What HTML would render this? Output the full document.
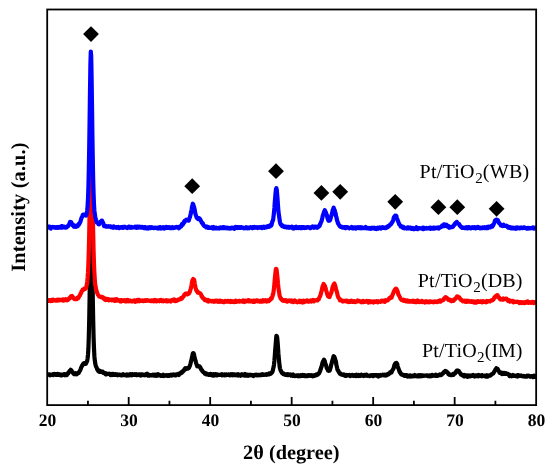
<!DOCTYPE html>
<html lang="en"><head><meta charset="utf-8"><title>XRD patterns</title>
<style>html,body{margin:0;padding:0;background:#fff}body{width:550px;height:468px;overflow:hidden}svg{display:block}</style>
</head><body>
<svg width="550" height="468" viewBox="0 0 550 468">
<rect width="550" height="468" fill="#fff"/>
<clipPath id="cp"><rect x="47.2" y="9.5" width="488.95" height="395.6"/></clipPath>
<g clip-path="url(#cp)">
<polyline fill="none" stroke="#000000" stroke-width="4.2" stroke-linejoin="round" stroke-linecap="butt" points="47.2,374.8 47.6,374.9 48.0,374.7 48.4,374.4 48.8,374.6 49.2,374.4 49.6,374.8 50.0,375.3 50.4,374.6 50.8,374.5 51.2,374.9 51.6,374.9 52.0,374.8 52.4,374.4 52.8,374.7 53.2,375.0 53.6,374.2 54.0,374.5 54.4,374.0 54.8,374.3 55.2,374.1 55.6,374.7 56.0,374.3 56.4,374.9 56.8,374.9 57.2,374.7 57.6,373.9 58.0,374.6 58.4,374.8 58.8,374.8 59.2,374.2 59.6,374.7 60.0,374.5 60.4,374.5 60.8,375.3 61.2,374.6 61.6,374.9 62.0,375.2 62.4,374.6 62.8,374.7 63.2,374.8 63.6,374.7 64.0,374.2 64.4,374.6 64.8,375.2 65.2,374.1 65.6,374.9 66.0,374.6 66.4,374.2 66.8,375.1 67.2,374.5 67.6,373.5 68.0,373.6 68.4,373.3 68.8,372.3 69.2,371.9 69.6,370.9 70.0,370.7 70.4,370.6 70.8,369.8 71.2,370.5 71.6,370.8 72.0,371.6 72.4,371.8 72.8,372.6 73.2,373.1 73.6,373.8 74.0,374.1 74.4,373.4 74.8,373.6 75.2,374.2 75.6,373.1 76.0,373.6 76.4,373.8 76.8,374.2 77.2,373.8 77.6,373.2 78.0,372.9 78.4,372.7 78.8,372.9 79.2,371.7 79.6,371.2 80.0,370.7 80.4,369.7 80.8,368.7 81.2,367.4 81.6,366.8 82.0,365.7 82.4,365.4 82.8,364.5 83.2,363.7 83.6,363.6 84.0,363.1 84.4,363.7 84.8,363.4 85.2,363.7 85.6,363.1 86.0,363.7 86.4,362.5 86.8,361.7 87.2,360.9 87.6,358.3 88.0,354.7 88.4,348.7 88.8,336.7 89.2,320.5 89.6,298.4 90.0,270.2 90.4,239.2 90.8,213.1 91.2,202.8 91.6,213.4 92.0,238.9 92.4,270.3 92.8,298.6 93.2,320.9 93.6,337.8 94.0,348.4 94.4,356.2 94.8,360.4 95.2,363.3 95.6,365.0 96.0,366.6 96.4,367.0 96.8,368.2 97.2,369.5 97.6,369.2 98.0,370.8 98.4,370.3 98.8,371.5 99.2,371.1 99.6,371.9 100.0,371.7 100.4,371.0 100.8,372.0 101.2,372.0 101.6,371.5 102.0,371.5 102.4,371.7 102.8,371.7 103.2,372.9 103.6,372.6 104.0,373.1 104.4,373.0 104.8,373.3 105.2,373.2 105.6,374.3 106.0,373.8 106.4,374.2 106.8,373.9 107.2,373.7 107.6,373.8 108.0,373.8 108.4,374.0 108.8,373.9 109.2,374.0 109.6,373.7 110.0,374.0 110.4,375.0 110.8,374.2 111.2,374.1 111.6,374.6 112.0,375.0 112.4,374.0 112.8,374.5 113.2,374.3 113.6,373.9 114.0,374.9 114.4,374.5 114.8,374.6 115.2,374.3 115.6,374.8 116.0,374.4 116.4,374.6 116.8,374.3 117.2,374.3 117.6,375.3 118.0,374.6 118.4,374.9 118.8,374.8 119.2,374.6 119.6,374.7 120.0,375.1 120.4,374.8 120.8,374.8 121.2,374.9 121.6,375.4 122.0,375.1 122.4,375.0 122.8,374.7 123.2,374.3 123.6,375.2 124.0,375.2 124.4,374.7 124.8,374.9 125.2,375.0 125.6,375.1 126.0,375.2 126.4,374.7 126.8,375.5 127.2,374.4 127.6,375.2 128.0,375.0 128.4,375.1 128.8,375.5 129.2,375.4 129.6,374.3 130.0,374.1 130.4,375.1 130.8,374.4 131.2,374.8 131.6,375.2 132.0,374.2 132.4,374.1 132.8,375.0 133.2,374.9 133.6,374.8 134.0,374.9 134.4,374.6 134.8,374.2 135.2,374.8 135.6,374.5 136.0,374.2 136.4,375.1 136.8,374.8 137.2,375.0 137.6,374.5 138.0,374.6 138.4,374.4 138.8,374.5 139.2,375.0 139.6,374.6 140.0,375.0 140.4,375.0 140.8,375.6 141.2,374.3 141.6,375.3 142.0,374.9 142.4,374.9 142.8,374.4 143.2,374.7 143.6,375.1 144.0,374.8 144.4,374.9 144.8,374.7 145.2,375.3 145.6,374.9 146.0,374.1 146.4,374.6 146.8,374.2 147.2,373.7 147.6,374.8 148.0,375.6 148.4,375.1 148.8,374.7 149.2,374.8 149.6,375.6 150.0,375.2 150.4,375.2 150.8,375.1 151.2,375.2 151.6,375.5 152.0,375.5 152.4,375.4 152.8,374.8 153.2,375.4 153.6,374.9 154.0,375.6 154.4,374.7 154.8,375.1 155.2,375.2 155.6,374.7 156.0,375.9 156.4,375.8 156.8,375.1 157.2,375.5 157.6,375.3 158.0,374.2 158.4,375.3 158.8,375.2 159.2,375.3 159.6,374.9 160.0,375.2 160.4,375.2 160.8,375.8 161.2,375.5 161.6,375.4 162.0,375.9 162.4,375.2 162.8,375.2 163.2,374.7 163.6,376.0 164.0,375.7 164.4,375.7 164.8,375.7 165.2,375.4 165.6,375.4 166.0,375.1 166.4,375.2 166.8,375.3 167.2,375.8 167.6,375.4 168.0,375.2 168.4,375.0 168.8,375.0 169.2,375.8 169.6,375.4 170.0,375.2 170.4,375.1 170.8,374.8 171.2,375.2 171.6,375.5 172.0,374.9 172.4,375.0 172.8,375.0 173.2,375.1 173.6,374.4 174.0,374.9 174.4,374.6 174.8,375.2 175.2,374.6 175.6,375.0 176.0,375.3 176.4,374.6 176.8,374.4 177.2,374.7 177.6,374.5 178.0,374.1 178.4,374.5 178.8,374.9 179.2,373.9 179.6,373.8 180.0,373.2 180.4,373.5 180.8,372.6 181.2,372.4 181.6,373.0 182.0,371.7 182.4,372.0 182.8,371.8 183.2,370.9 183.6,370.4 184.0,370.5 184.4,369.3 184.8,368.7 185.2,368.2 185.6,368.5 186.0,369.0 186.4,368.8 186.8,368.0 187.2,368.1 187.6,368.3 188.0,368.5 188.4,368.2 188.8,367.9 189.2,367.4 189.6,366.3 190.0,365.4 190.4,364.0 190.8,362.3 191.2,360.8 191.6,359.4 192.0,357.1 192.4,355.4 192.8,353.5 193.2,353.9 193.6,353.3 194.0,354.5 194.4,356.8 194.8,358.3 195.2,359.8 195.6,360.8 196.0,362.7 196.4,363.7 196.8,365.1 197.2,366.3 197.6,366.0 198.0,365.8 198.4,365.8 198.8,366.3 199.2,366.4 199.6,366.4 200.0,367.3 200.4,367.3 200.8,368.7 201.2,369.4 201.6,370.0 202.0,370.1 202.4,371.1 202.8,371.5 203.2,371.9 203.6,372.4 204.0,372.4 204.4,372.6 204.8,373.7 205.2,373.5 205.6,373.8 206.0,374.3 206.4,373.4 206.8,373.8 207.2,374.3 207.6,374.5 208.0,374.3 208.4,374.8 208.8,374.6 209.2,374.1 209.6,374.2 210.0,374.9 210.4,374.8 210.8,374.0 211.2,375.2 211.6,374.9 212.0,375.2 212.4,374.6 212.8,374.7 213.2,374.3 213.6,375.7 214.0,374.7 214.4,375.4 214.8,374.5 215.2,374.8 215.6,374.2 216.0,374.7 216.4,375.2 216.8,374.4 217.2,375.3 217.6,375.1 218.0,374.6 218.4,374.8 218.8,374.8 219.2,374.9 219.6,374.8 220.0,374.7 220.4,374.8 220.8,374.6 221.2,374.4 221.6,374.9 222.0,375.2 222.4,374.3 222.8,374.9 223.2,374.6 223.6,374.5 224.0,375.1 224.4,374.6 224.8,375.4 225.2,374.5 225.6,375.0 226.0,374.7 226.4,374.5 226.8,375.1 227.2,374.8 227.6,375.0 228.0,374.8 228.4,374.4 228.8,374.8 229.2,374.9 229.6,375.2 230.0,374.5 230.4,374.8 230.8,374.2 231.2,375.1 231.6,374.4 232.0,374.2 232.4,374.9 232.8,375.3 233.2,374.3 233.6,374.5 234.0,374.7 234.4,374.5 234.8,375.1 235.2,374.7 235.6,374.7 236.0,375.2 236.4,374.6 236.8,375.1 237.2,374.6 237.6,374.5 238.0,374.2 238.4,375.6 238.8,374.8 239.2,375.1 239.6,374.9 240.0,375.0 240.4,375.0 240.8,375.7 241.2,374.5 241.6,374.3 242.0,374.5 242.4,374.4 242.8,375.2 243.2,375.3 243.6,374.6 244.0,374.5 244.4,374.9 244.8,375.6 245.2,374.0 245.6,375.3 246.0,374.7 246.4,375.6 246.8,374.8 247.2,375.1 247.6,374.7 248.0,374.9 248.4,375.7 248.8,375.5 249.2,375.0 249.6,374.9 250.0,374.6 250.4,375.1 250.8,375.3 251.2,375.4 251.6,375.3 252.0,374.9 252.4,375.4 252.8,375.4 253.2,375.8 253.6,376.0 254.0,375.3 254.4,375.0 254.8,375.2 255.2,375.0 255.6,374.9 256.0,375.1 256.4,374.8 256.8,375.4 257.2,375.2 257.6,375.3 258.0,375.1 258.4,374.9 258.8,374.8 259.2,375.1 259.6,375.0 260.0,375.3 260.4,375.2 260.8,374.6 261.2,375.1 261.6,374.6 262.0,374.9 262.4,375.0 262.8,374.3 263.2,375.0 263.6,375.0 264.0,374.9 264.4,374.8 264.8,374.7 265.2,374.4 265.6,374.7 266.0,374.4 266.4,374.7 266.8,374.1 267.2,374.6 267.6,374.6 268.0,374.3 268.4,374.1 268.8,374.4 269.2,373.5 269.6,374.2 270.0,373.9 270.4,373.7 270.8,373.6 271.2,372.9 271.6,372.7 272.0,372.6 272.4,371.8 272.8,370.6 273.2,368.5 273.6,367.1 274.0,364.5 274.4,360.7 274.8,355.8 275.2,349.9 275.6,345.4 276.0,340.1 276.4,335.8 276.8,336.2 277.2,337.6 277.6,341.9 278.0,347.4 278.4,353.5 278.8,357.9 279.2,362.3 279.6,366.2 280.0,368.6 280.4,369.7 280.8,370.9 281.2,371.4 281.6,372.2 282.0,373.1 282.4,373.3 282.8,373.5 283.2,374.0 283.6,373.5 284.0,373.9 284.4,374.4 284.8,374.5 285.2,374.8 285.6,374.6 286.0,374.4 286.4,374.7 286.8,374.3 287.2,374.2 287.6,375.1 288.0,375.0 288.4,375.1 288.8,374.5 289.2,375.0 289.6,375.0 290.0,374.9 290.4,374.4 290.8,375.2 291.2,375.7 291.6,375.5 292.0,375.2 292.4,375.4 292.8,375.7 293.2,374.4 293.6,375.4 294.0,375.6 294.4,375.7 294.8,376.1 295.2,375.9 295.6,375.6 296.0,375.6 296.4,375.8 296.8,375.3 297.2,375.4 297.6,375.8 298.0,376.2 298.4,375.4 298.8,375.5 299.2,375.6 299.6,376.0 300.0,375.5 300.4,376.0 300.8,375.1 301.2,375.4 301.6,375.4 302.0,375.7 302.4,375.9 302.8,375.0 303.2,375.2 303.6,375.7 304.0,375.3 304.4,375.1 304.8,376.0 305.2,375.8 305.6,375.8 306.0,375.5 306.4,376.1 306.8,375.6 307.2,376.1 307.6,375.4 308.0,375.4 308.4,375.7 308.8,375.3 309.2,375.8 309.6,375.7 310.0,375.2 310.4,375.5 310.8,375.4 311.2,375.9 311.6,375.2 312.0,375.3 312.4,375.9 312.8,376.3 313.2,376.2 313.6,375.4 314.0,375.4 314.4,375.9 314.8,375.2 315.2,374.9 315.6,375.2 316.0,375.3 316.4,374.7 316.8,374.3 317.2,374.2 317.6,374.8 318.0,374.0 318.4,374.0 318.8,373.6 319.2,373.1 319.6,372.0 320.0,371.4 320.4,369.9 320.8,368.9 321.2,367.3 321.6,366.6 322.0,364.7 322.4,363.0 322.8,362.0 323.2,361.0 323.6,360.7 324.0,359.7 324.4,360.3 324.8,361.2 325.2,363.4 325.6,364.1 326.0,365.0 326.4,366.6 326.8,368.4 327.2,368.6 327.6,369.3 328.0,370.5 328.4,370.6 328.8,370.8 329.2,370.1 329.6,370.6 330.0,369.8 330.4,368.2 330.8,367.0 331.2,364.5 331.6,363.9 332.0,361.8 332.4,360.4 332.8,359.0 333.2,357.5 333.6,356.2 334.0,356.9 334.4,356.9 334.8,358.0 335.2,359.3 335.6,361.1 336.0,362.1 336.4,365.2 336.8,366.5 337.2,368.4 337.6,370.1 338.0,370.5 338.4,370.8 338.8,372.0 339.2,372.4 339.6,373.2 340.0,373.8 340.4,373.3 340.8,374.4 341.2,373.9 341.6,374.7 342.0,374.7 342.4,374.6 342.8,374.8 343.2,374.7 343.6,374.8 344.0,374.4 344.4,375.1 344.8,375.8 345.2,375.9 345.6,375.7 346.0,375.4 346.4,374.9 346.8,375.7 347.2,375.2 347.6,375.2 348.0,375.2 348.4,375.3 348.8,375.1 349.2,375.2 349.6,374.9 350.0,375.2 350.4,376.1 350.8,375.3 351.2,375.2 351.6,375.5 352.0,375.6 352.4,374.9 352.8,375.3 353.2,375.8 353.6,375.5 354.0,375.4 354.4,375.9 354.8,375.1 355.2,375.4 355.6,375.2 356.0,376.0 356.4,374.7 356.8,375.2 357.2,375.3 357.6,375.8 358.0,375.7 358.4,376.1 358.8,375.0 359.2,375.9 359.6,375.5 360.0,375.3 360.4,375.8 360.8,375.1 361.2,374.7 361.6,375.4 362.0,375.0 362.4,375.3 362.8,375.7 363.2,375.7 363.6,376.1 364.0,375.4 364.4,374.9 364.8,375.1 365.2,375.0 365.6,374.9 366.0,375.6 366.4,375.2 366.8,374.8 367.2,375.8 367.6,375.4 368.0,375.6 368.4,375.6 368.8,375.9 369.2,375.6 369.6,376.1 370.0,375.8 370.4,375.7 370.8,375.8 371.2,375.1 371.6,375.6 372.0,375.5 372.4,375.7 372.8,375.1 373.2,376.2 373.6,375.7 374.0,375.1 374.4,375.0 374.8,375.5 375.2,375.5 375.6,375.3 376.0,375.6 376.4,375.3 376.8,375.7 377.2,375.2 377.6,375.5 378.0,375.9 378.4,376.5 378.8,375.2 379.2,375.4 379.6,375.2 380.0,375.7 380.4,375.0 380.8,375.3 381.2,375.5 381.6,375.1 382.0,375.1 382.4,375.2 382.8,374.6 383.2,374.9 383.6,375.2 384.0,375.4 384.4,375.2 384.8,374.7 385.2,375.1 385.6,375.5 386.0,375.3 386.4,374.9 386.8,374.5 387.2,374.9 387.6,374.3 388.0,373.8 388.4,373.7 388.8,374.3 389.2,373.5 389.6,373.5 390.0,372.5 390.4,372.7 390.8,371.9 391.2,371.7 391.6,372.4 392.0,371.2 392.4,370.2 392.8,369.7 393.2,369.0 393.6,368.4 394.0,366.7 394.4,365.1 394.8,364.5 395.2,363.7 395.6,363.1 396.0,363.2 396.4,363.0 396.8,363.8 397.2,364.0 397.6,365.9 398.0,367.6 398.4,368.3 398.8,369.4 399.2,370.5 399.6,372.1 400.0,371.9 400.4,372.9 400.8,373.7 401.2,374.3 401.6,374.1 402.0,374.8 402.4,374.8 402.8,375.1 403.2,375.1 403.6,374.9 404.0,375.4 404.4,375.7 404.8,375.1 405.2,375.3 405.6,375.8 406.0,375.1 406.4,375.7 406.8,375.2 407.2,376.1 407.6,376.6 408.0,376.6 408.4,375.8 408.8,376.1 409.2,375.9 409.6,376.0 410.0,376.5 410.4,375.4 410.8,376.3 411.2,375.9 411.6,376.4 412.0,375.9 412.4,375.6 412.8,375.9 413.2,376.2 413.6,375.8 414.0,376.1 414.4,375.7 414.8,375.0 415.2,376.2 415.6,376.1 416.0,375.9 416.4,375.8 416.8,376.2 417.2,375.6 417.6,375.5 418.0,375.7 418.4,376.2 418.8,375.2 419.2,376.3 419.6,375.6 420.0,375.4 420.4,376.2 420.8,375.7 421.2,375.2 421.6,375.6 422.0,376.1 422.4,376.2 422.8,375.5 423.2,375.9 423.6,376.0 424.0,375.5 424.4,375.8 424.8,375.7 425.2,375.5 425.6,375.5 426.0,375.6 426.4,375.6 426.8,375.3 427.2,375.4 427.6,376.0 428.0,375.7 428.4,376.0 428.8,376.1 429.2,375.8 429.6,376.4 430.0,375.3 430.4,375.9 430.8,375.5 431.2,376.2 431.6,376.2 432.0,374.8 432.4,375.1 432.8,375.7 433.2,375.7 433.6,375.7 434.0,375.4 434.4,375.6 434.8,375.6 435.2,375.4 435.6,375.9 436.0,374.7 436.4,375.8 436.8,375.1 437.2,375.9 437.6,375.4 438.0,375.1 438.4,375.5 438.8,375.0 439.2,374.9 439.6,374.5 440.0,375.0 440.4,375.1 440.8,375.1 441.2,374.4 441.6,374.7 442.0,374.0 442.4,373.6 442.8,373.5 443.2,373.3 443.6,372.4 444.0,372.0 444.4,371.7 444.8,371.5 445.2,371.1 445.6,371.7 446.0,371.3 446.4,371.8 446.8,371.6 447.2,372.4 447.6,372.8 448.0,372.9 448.4,374.2 448.8,374.0 449.2,374.8 449.6,374.8 450.0,374.4 450.4,374.7 450.8,375.2 451.2,375.1 451.6,375.1 452.0,375.0 452.4,374.4 452.8,374.9 453.2,374.0 453.6,374.8 454.0,374.1 454.4,373.8 454.8,373.5 455.2,373.3 455.6,372.2 456.0,371.6 456.4,371.4 456.8,370.6 457.2,370.7 457.6,371.6 458.0,370.6 458.4,371.5 458.8,371.1 459.2,372.1 459.6,372.3 460.0,372.9 460.4,373.6 460.8,374.5 461.2,374.3 461.6,374.6 462.0,374.5 462.4,375.3 462.8,375.2 463.2,375.7 463.6,375.5 464.0,376.3 464.4,375.0 464.8,375.6 465.2,376.2 465.6,375.7 466.0,375.6 466.4,375.9 466.8,375.5 467.2,376.0 467.6,376.9 468.0,376.4 468.4,375.5 468.8,375.6 469.2,375.8 469.6,376.4 470.0,375.6 470.4,375.6 470.8,376.1 471.2,376.1 471.6,375.6 472.0,375.3 472.4,375.2 472.8,375.5 473.2,374.9 473.6,376.1 474.0,375.5 474.4,375.9 474.8,376.5 475.2,376.2 475.6,375.4 476.0,376.1 476.4,376.2 476.8,375.5 477.2,375.4 477.6,375.7 478.0,375.2 478.4,376.3 478.8,374.9 479.2,375.4 479.6,375.7 480.0,375.7 480.4,375.9 480.8,375.9 481.2,375.8 481.6,376.3 482.0,375.1 482.4,375.9 482.8,375.6 483.2,376.0 483.6,376.0 484.0,375.6 484.4,375.6 484.8,376.1 485.2,375.9 485.6,375.6 486.0,376.6 486.4,376.7 486.8,375.2 487.2,375.8 487.6,376.6 488.0,375.9 488.4,375.7 488.8,375.6 489.2,375.4 489.6,375.4 490.0,375.2 490.4,375.5 490.8,374.9 491.2,374.7 491.6,374.2 492.0,374.4 492.4,373.8 492.8,373.6 493.2,373.6 493.6,372.8 494.0,372.2 494.4,371.4 494.8,370.7 495.2,369.9 495.6,369.3 496.0,369.2 496.4,368.2 496.8,369.1 497.2,368.8 497.6,369.0 498.0,369.7 498.4,370.3 498.8,371.3 499.2,371.6 499.6,372.8 500.0,372.6 500.4,372.3 500.8,373.2 501.2,372.8 501.6,373.7 502.0,374.0 502.4,373.8 502.8,372.9 503.2,373.0 503.6,373.8 504.0,373.1 504.4,372.9 504.8,373.2 505.2,373.8 505.6,373.5 506.0,373.2 506.4,373.5 506.8,373.9 507.2,373.7 507.6,373.8 508.0,374.4 508.4,374.3 508.8,374.9 509.2,375.1 509.6,376.1 510.0,375.0 510.4,375.4 510.8,375.5 511.2,375.8 511.6,376.2 512.0,375.6 512.4,375.5 512.8,375.1 513.2,375.5 513.6,376.0 514.0,375.9 514.4,375.6 514.8,375.8 515.2,376.0 515.6,376.1 516.0,375.8 516.4,375.9 516.8,375.3 517.2,375.5 517.6,376.5 518.0,375.1 518.4,375.8 518.8,376.1 519.2,375.8 519.6,375.6 520.0,375.9 520.4,376.0 520.8,376.0 521.2,375.4 521.6,376.0 522.0,375.8 522.4,376.0 522.8,376.3 523.2,376.4 523.6,376.5 524.0,376.0 524.4,376.5 524.8,376.7 525.2,376.6 525.6,376.7 526.0,376.1 526.4,376.1 526.8,376.6 527.2,375.7 527.6,376.3 528.0,376.0 528.4,376.1 528.8,375.6 529.2,376.0 529.6,376.3 530.0,376.7 530.4,376.8 530.8,376.3 531.2,376.3 531.6,376.1 532.0,376.5 532.4,376.3 532.8,376.6 533.2,377.1 533.6,376.4 534.0,375.8 534.4,376.1 534.8,375.9 535.2,376.0 535.6,376.9 536.0,376.5"/>
<polyline fill="none" stroke="#ff0000" stroke-width="4.2" stroke-linejoin="round" stroke-linecap="butt" points="47.2,300.1 47.6,299.9 48.0,300.3 48.4,300.6 48.8,300.8 49.2,300.4 49.6,300.1 50.0,300.1 50.4,300.7 50.8,301.0 51.2,300.5 51.6,299.9 52.0,300.0 52.4,300.9 52.8,300.4 53.2,299.7 53.6,300.4 54.0,299.9 54.4,300.1 54.8,300.2 55.2,300.1 55.6,300.5 56.0,300.3 56.4,300.1 56.8,300.5 57.2,300.6 57.6,299.7 58.0,300.2 58.4,299.9 58.8,300.2 59.2,299.8 59.6,300.3 60.0,300.2 60.4,300.2 60.8,299.9 61.2,300.1 61.6,299.8 62.0,299.6 62.4,300.2 62.8,299.7 63.2,300.6 63.6,300.4 64.0,299.4 64.4,300.3 64.8,299.7 65.2,300.1 65.6,300.1 66.0,299.3 66.4,299.9 66.8,299.9 67.2,300.3 67.6,299.3 68.0,299.8 68.4,298.9 68.8,298.8 69.2,298.2 69.6,298.5 70.0,297.6 70.4,297.6 70.8,296.4 71.2,296.2 71.6,296.2 72.0,295.9 72.4,296.6 72.8,297.7 73.2,297.5 73.6,298.3 74.0,298.6 74.4,299.0 74.8,298.8 75.2,299.0 75.6,299.1 76.0,299.0 76.4,298.6 76.8,299.1 77.2,298.0 77.6,297.8 78.0,297.5 78.4,298.0 78.8,297.0 79.2,296.2 79.6,295.6 80.0,295.4 80.4,294.0 80.8,293.0 81.2,292.9 81.6,291.2 82.0,290.8 82.4,290.3 82.8,289.5 83.2,289.3 83.6,289.7 84.0,288.9 84.4,288.6 84.8,288.3 85.2,288.8 85.6,288.4 86.0,287.9 86.4,286.5 86.8,284.8 87.2,282.0 87.6,278.0 88.0,272.2 88.4,263.1 88.8,250.7 89.2,234.2 89.6,211.8 90.0,185.3 90.4,159.8 90.8,137.6 91.2,128.5 91.6,137.9 92.0,159.3 92.4,186.0 92.8,211.8 93.2,233.6 93.6,251.3 94.0,264.4 94.4,273.0 94.8,279.6 95.2,284.5 95.6,286.3 96.0,289.1 96.4,290.5 96.8,291.6 97.2,292.8 97.6,294.0 98.0,294.9 98.4,295.1 98.8,295.8 99.2,296.5 99.6,296.6 100.0,296.9 100.4,296.9 100.8,296.8 101.2,297.3 101.6,296.9 102.0,296.9 102.4,297.4 102.8,297.1 103.2,297.8 103.6,298.6 104.0,298.8 104.4,299.4 104.8,299.0 105.2,298.5 105.6,300.0 106.0,299.7 106.4,298.9 106.8,299.9 107.2,299.5 107.6,298.9 108.0,299.5 108.4,299.5 108.8,300.4 109.2,299.5 109.6,299.8 110.0,299.8 110.4,299.8 110.8,299.6 111.2,300.1 111.6,300.4 112.0,300.2 112.4,299.7 112.8,299.6 113.2,300.1 113.6,299.8 114.0,299.9 114.4,299.5 114.8,300.9 115.2,300.5 115.6,299.7 116.0,300.5 116.4,300.6 116.8,299.2 117.2,299.9 117.6,300.0 118.0,300.4 118.4,300.2 118.8,300.2 119.2,300.3 119.6,301.1 120.0,301.3 120.4,300.3 120.8,300.1 121.2,301.5 121.6,300.1 122.0,300.3 122.4,300.5 122.8,300.6 123.2,300.8 123.6,300.6 124.0,300.2 124.4,300.8 124.8,300.7 125.2,301.4 125.6,300.7 126.0,300.2 126.4,300.3 126.8,301.3 127.2,300.6 127.6,299.9 128.0,300.5 128.4,300.7 128.8,301.2 129.2,300.4 129.6,301.1 130.0,301.1 130.4,300.6 130.8,300.8 131.2,301.5 131.6,301.5 132.0,301.1 132.4,300.9 132.8,301.2 133.2,300.7 133.6,300.7 134.0,300.4 134.4,300.8 134.8,300.7 135.2,301.8 135.6,300.7 136.0,301.2 136.4,301.2 136.8,300.7 137.2,301.2 137.6,300.0 138.0,300.8 138.4,301.1 138.8,299.8 139.2,300.3 139.6,301.2 140.0,300.7 140.4,300.4 140.8,300.7 141.2,300.6 141.6,301.0 142.0,300.9 142.4,300.6 142.8,300.4 143.2,300.6 143.6,301.1 144.0,300.8 144.4,300.8 144.8,300.5 145.2,300.1 145.6,300.3 146.0,300.9 146.4,300.7 146.8,300.3 147.2,300.1 147.6,300.7 148.0,300.5 148.4,300.5 148.8,300.5 149.2,300.7 149.6,300.7 150.0,301.0 150.4,301.0 150.8,301.2 151.2,300.9 151.6,300.5 152.0,300.7 152.4,300.9 152.8,300.6 153.2,300.9 153.6,301.2 154.0,300.4 154.4,300.0 154.8,301.1 155.2,300.7 155.6,301.0 156.0,300.2 156.4,301.4 156.8,301.0 157.2,300.7 157.6,300.6 158.0,300.8 158.4,300.7 158.8,300.7 159.2,300.3 159.6,301.2 160.0,300.8 160.4,300.8 160.8,300.8 161.2,300.0 161.6,301.0 162.0,300.7 162.4,300.8 162.8,300.9 163.2,300.4 163.6,301.2 164.0,300.6 164.4,300.5 164.8,300.5 165.2,300.8 165.6,301.1 166.0,300.6 166.4,300.3 166.8,301.2 167.2,300.4 167.6,301.3 168.0,300.8 168.4,300.5 168.8,300.5 169.2,301.0 169.6,301.2 170.0,300.7 170.4,301.1 170.8,301.5 171.2,300.6 171.6,300.2 172.0,300.2 172.4,300.0 172.8,300.3 173.2,300.2 173.6,300.0 174.0,300.7 174.4,299.5 174.8,300.0 175.2,301.2 175.6,300.8 176.0,300.6 176.4,300.4 176.8,300.8 177.2,300.3 177.6,300.1 178.0,299.6 178.4,300.0 178.8,299.6 179.2,299.4 179.6,299.2 180.0,299.3 180.4,298.9 180.8,299.1 181.2,298.0 181.6,298.1 182.0,298.4 182.4,297.3 182.8,297.2 183.2,296.8 183.6,296.4 184.0,295.7 184.4,294.5 184.8,294.4 185.2,294.1 185.6,293.6 186.0,293.9 186.4,293.6 186.8,293.5 187.2,294.4 187.6,294.3 188.0,294.0 188.4,293.8 188.8,293.6 189.2,293.2 189.6,292.3 190.0,291.3 190.4,289.8 190.8,288.5 191.2,286.7 191.6,284.6 192.0,282.2 192.4,280.5 192.8,279.7 193.2,279.0 193.6,279.4 194.0,279.6 194.4,281.1 194.8,284.1 195.2,286.0 195.6,288.2 196.0,289.4 196.4,290.4 196.8,291.2 197.2,291.2 197.6,292.5 198.0,292.1 198.4,292.6 198.8,292.6 199.2,292.7 199.6,293.2 200.0,293.1 200.4,293.7 200.8,294.1 201.2,294.9 201.6,296.4 202.0,296.2 202.4,297.4 202.8,297.9 203.2,298.4 203.6,298.8 204.0,298.4 204.4,299.4 204.8,300.1 205.2,299.6 205.6,300.0 206.0,299.9 206.4,300.4 206.8,300.0 207.2,301.1 207.6,300.5 208.0,300.1 208.4,301.5 208.8,301.2 209.2,301.1 209.6,301.1 210.0,300.8 210.4,300.9 210.8,301.2 211.2,301.3 211.6,301.3 212.0,301.1 212.4,300.8 212.8,301.0 213.2,301.5 213.6,301.7 214.0,301.0 214.4,300.9 214.8,301.6 215.2,301.4 215.6,301.4 216.0,300.7 216.4,301.1 216.8,301.1 217.2,301.4 217.6,300.7 218.0,301.8 218.4,301.4 218.8,301.5 219.2,300.9 219.6,301.2 220.0,301.8 220.4,300.7 220.8,301.5 221.2,301.6 221.6,301.1 222.0,301.7 222.4,301.3 222.8,301.8 223.2,301.6 223.6,301.5 224.0,302.2 224.4,301.7 224.8,301.8 225.2,300.9 225.6,301.2 226.0,301.7 226.4,301.7 226.8,301.3 227.2,301.6 227.6,301.0 228.0,301.5 228.4,300.9 228.8,301.5 229.2,301.1 229.6,301.1 230.0,301.4 230.4,302.0 230.8,300.9 231.2,301.1 231.6,301.7 232.0,301.1 232.4,301.9 232.8,301.4 233.2,301.3 233.6,301.5 234.0,302.0 234.4,301.5 234.8,301.5 235.2,301.4 235.6,300.7 236.0,300.9 236.4,301.9 236.8,301.6 237.2,301.5 237.6,301.5 238.0,301.1 238.4,301.4 238.8,301.0 239.2,301.5 239.6,301.0 240.0,301.2 240.4,301.4 240.8,301.1 241.2,301.4 241.6,301.3 242.0,301.3 242.4,301.6 242.8,300.6 243.2,300.5 243.6,301.4 244.0,301.5 244.4,301.9 244.8,301.4 245.2,301.5 245.6,300.8 246.0,301.5 246.4,301.4 246.8,300.8 247.2,300.9 247.6,301.2 248.0,301.3 248.4,300.1 248.8,301.2 249.2,301.3 249.6,301.1 250.0,301.2 250.4,301.3 250.8,300.8 251.2,301.4 251.6,301.1 252.0,300.9 252.4,301.3 252.8,301.8 253.2,300.7 253.6,300.6 254.0,300.6 254.4,301.9 254.8,301.0 255.2,301.1 255.6,300.8 256.0,300.8 256.4,300.4 256.8,301.2 257.2,301.3 257.6,300.4 258.0,300.7 258.4,300.8 258.8,301.1 259.2,301.3 259.6,301.6 260.0,301.7 260.4,301.6 260.8,301.7 261.2,300.7 261.6,300.9 262.0,301.6 262.4,301.2 262.8,301.0 263.2,300.2 263.6,300.3 264.0,301.3 264.4,301.1 264.8,300.9 265.2,300.8 265.6,300.3 266.0,301.1 266.4,301.3 266.8,301.5 267.2,300.8 267.6,300.6 268.0,300.2 268.4,301.0 268.8,301.1 269.2,300.1 269.6,300.3 270.0,300.0 270.4,299.5 270.8,298.5 271.2,298.9 271.6,298.8 272.0,297.3 272.4,296.6 272.8,294.3 273.2,294.2 273.6,291.3 274.0,287.9 274.4,283.9 274.8,279.3 275.2,275.0 275.6,271.1 276.0,268.9 276.4,269.0 276.8,271.3 277.2,275.6 277.6,279.0 278.0,284.0 278.4,287.6 278.8,290.7 279.2,292.8 279.6,295.8 280.0,296.6 280.4,297.7 280.8,298.8 281.2,298.7 281.6,299.5 282.0,299.7 282.4,300.3 282.8,300.5 283.2,299.9 283.6,300.7 284.0,300.4 284.4,300.5 284.8,300.5 285.2,300.9 285.6,300.2 286.0,300.8 286.4,301.2 286.8,300.7 287.2,301.7 287.6,300.6 288.0,301.0 288.4,300.8 288.8,300.7 289.2,300.5 289.6,300.8 290.0,301.0 290.4,300.7 290.8,301.4 291.2,301.6 291.6,300.5 292.0,301.4 292.4,301.1 292.8,301.2 293.2,302.0 293.6,301.6 294.0,301.2 294.4,301.2 294.8,300.4 295.2,301.5 295.6,301.0 296.0,301.4 296.4,301.4 296.8,301.8 297.2,302.2 297.6,301.8 298.0,301.9 298.4,301.3 298.8,301.5 299.2,301.7 299.6,300.8 300.0,302.1 300.4,301.0 300.8,300.9 301.2,302.0 301.6,302.2 302.0,301.1 302.4,301.1 302.8,302.5 303.2,301.4 303.6,300.6 304.0,301.1 304.4,302.0 304.8,301.4 305.2,301.4 305.6,301.5 306.0,301.3 306.4,300.9 306.8,300.4 307.2,301.2 307.6,300.6 308.0,301.0 308.4,301.7 308.8,301.2 309.2,301.1 309.6,301.1 310.0,301.3 310.4,301.4 310.8,300.5 311.2,301.0 311.6,301.6 312.0,301.2 312.4,300.7 312.8,300.6 313.2,300.0 313.6,300.5 314.0,301.3 314.4,300.6 314.8,300.3 315.2,300.4 315.6,300.5 316.0,300.4 316.4,300.3 316.8,300.0 317.2,300.3 317.6,300.4 318.0,299.4 318.4,299.1 318.8,299.2 319.2,297.7 319.6,297.2 320.0,296.3 320.4,295.4 320.8,293.9 321.2,292.3 321.6,291.1 322.0,289.0 322.4,287.2 322.8,285.7 323.2,285.7 323.6,284.0 324.0,284.7 324.4,285.1 324.8,286.0 325.2,286.8 325.6,288.1 326.0,289.8 326.4,291.1 326.8,292.3 327.2,294.4 327.6,294.6 328.0,296.4 328.4,296.5 328.8,296.5 329.2,296.9 329.6,297.0 330.0,295.5 330.4,294.9 330.8,293.8 331.2,293.0 331.6,291.6 332.0,289.9 332.4,288.0 332.8,286.5 333.2,285.9 333.6,284.8 334.0,284.0 334.4,283.5 334.8,284.8 335.2,285.8 335.6,287.2 336.0,289.3 336.4,290.6 336.8,291.6 337.2,293.2 337.6,295.4 338.0,296.3 338.4,297.6 338.8,298.0 339.2,298.4 339.6,299.4 340.0,300.3 340.4,300.1 340.8,299.8 341.2,300.3 341.6,300.4 342.0,300.7 342.4,301.1 342.8,301.5 343.2,300.9 343.6,300.8 344.0,301.0 344.4,301.0 344.8,300.9 345.2,301.1 345.6,301.2 346.0,300.8 346.4,301.5 346.8,301.1 347.2,300.8 347.6,301.4 348.0,301.1 348.4,302.0 348.8,301.6 349.2,301.5 349.6,301.1 350.0,301.3 350.4,301.8 350.8,301.2 351.2,301.8 351.6,300.7 352.0,301.6 352.4,301.9 352.8,301.7 353.2,301.5 353.6,301.8 354.0,301.1 354.4,301.1 354.8,301.5 355.2,302.0 355.6,301.7 356.0,301.5 356.4,301.7 356.8,301.7 357.2,301.1 357.6,300.5 358.0,301.1 358.4,301.0 358.8,301.3 359.2,301.0 359.6,301.2 360.0,301.7 360.4,301.6 360.8,301.5 361.2,302.2 361.6,301.4 362.0,301.4 362.4,302.0 362.8,301.1 363.2,300.9 363.6,302.0 364.0,301.7 364.4,301.8 364.8,301.7 365.2,301.8 365.6,301.3 366.0,301.5 366.4,301.1 366.8,301.6 367.2,301.6 367.6,301.4 368.0,301.8 368.4,302.6 368.8,301.1 369.2,301.9 369.6,301.9 370.0,302.0 370.4,301.3 370.8,302.1 371.2,301.9 371.6,301.6 372.0,301.5 372.4,301.7 372.8,301.9 373.2,301.9 373.6,302.5 374.0,301.4 374.4,301.8 374.8,301.4 375.2,301.9 375.6,301.6 376.0,301.4 376.4,301.1 376.8,301.3 377.2,301.8 377.6,302.3 378.0,302.0 378.4,301.3 378.8,301.5 379.2,301.6 379.6,301.5 380.0,301.6 380.4,301.8 380.8,301.6 381.2,301.3 381.6,300.7 382.0,301.3 382.4,300.8 382.8,301.3 383.2,301.4 383.6,300.8 384.0,301.2 384.4,301.0 384.8,301.8 385.2,301.2 385.6,300.2 386.0,300.9 386.4,300.8 386.8,300.3 387.2,300.1 387.6,300.3 388.0,300.1 388.4,299.7 388.8,298.8 389.2,298.8 389.6,297.9 390.0,297.6 390.4,297.5 390.8,297.0 391.2,296.9 391.6,297.7 392.0,296.4 392.4,295.3 392.8,294.1 393.2,293.7 393.6,292.5 394.0,291.1 394.4,291.1 394.8,289.7 395.2,289.2 395.6,289.7 396.0,288.6 396.4,288.9 396.8,289.8 397.2,290.5 397.6,291.4 398.0,292.9 398.4,294.6 398.8,295.1 399.2,295.7 399.6,296.6 400.0,297.4 400.4,298.4 400.8,299.0 401.2,299.4 401.6,299.9 402.0,299.6 402.4,300.2 402.8,300.2 403.2,300.5 403.6,299.6 404.0,300.9 404.4,299.9 404.8,300.1 405.2,300.9 405.6,300.5 406.0,301.4 406.4,300.8 406.8,300.5 407.2,301.0 407.6,300.8 408.0,301.6 408.4,301.7 408.8,301.4 409.2,301.0 409.6,301.2 410.0,301.6 410.4,301.0 410.8,301.0 411.2,301.6 411.6,301.6 412.0,301.3 412.4,301.3 412.8,300.7 413.2,301.9 413.6,301.5 414.0,300.9 414.4,301.1 414.8,301.2 415.2,302.2 415.6,301.8 416.0,301.1 416.4,302.2 416.8,302.0 417.2,301.1 417.6,300.5 418.0,301.9 418.4,301.3 418.8,301.4 419.2,301.3 419.6,302.0 420.0,302.1 420.4,301.8 420.8,301.5 421.2,301.7 421.6,301.9 422.0,301.0 422.4,302.1 422.8,301.5 423.2,301.7 423.6,301.6 424.0,301.9 424.4,302.0 424.8,302.4 425.2,301.5 425.6,301.4 426.0,301.8 426.4,301.5 426.8,302.1 427.2,301.4 427.6,301.7 428.0,302.1 428.4,302.1 428.8,301.9 429.2,302.4 429.6,302.4 430.0,301.3 430.4,302.0 430.8,301.9 431.2,301.7 431.6,301.6 432.0,301.9 432.4,302.0 432.8,301.9 433.2,302.3 433.6,302.2 434.0,301.6 434.4,301.5 434.8,302.1 435.2,301.4 435.6,301.7 436.0,301.9 436.4,302.0 436.8,301.8 437.2,302.1 437.6,301.4 438.0,301.8 438.4,301.3 438.8,301.6 439.2,301.5 439.6,301.1 440.0,300.4 440.4,301.7 440.8,301.3 441.2,301.1 441.6,300.6 442.0,300.5 442.4,300.5 442.8,300.0 443.2,300.1 443.6,299.3 444.0,298.6 444.4,298.7 444.8,297.9 445.2,298.1 445.6,297.1 446.0,297.7 446.4,298.1 446.8,297.7 447.2,298.2 447.6,298.8 448.0,299.0 448.4,299.9 448.8,299.4 449.2,299.8 449.6,300.0 450.0,299.6 450.4,299.9 450.8,300.8 451.2,300.6 451.6,301.3 452.0,300.8 452.4,300.7 452.8,300.9 453.2,300.5 453.6,300.8 454.0,299.5 454.4,299.7 454.8,299.4 455.2,298.9 455.6,298.7 456.0,298.1 456.4,297.3 456.8,296.7 457.2,297.0 457.6,296.5 458.0,296.9 458.4,297.3 458.8,297.2 459.2,297.3 459.6,298.0 460.0,298.9 460.4,298.9 460.8,299.9 461.2,299.9 461.6,300.3 462.0,300.2 462.4,300.7 462.8,301.3 463.2,300.9 463.6,300.9 464.0,300.8 464.4,301.5 464.8,300.6 465.2,301.0 465.6,301.7 466.0,301.9 466.4,301.4 466.8,301.8 467.2,300.7 467.6,301.7 468.0,301.6 468.4,301.1 468.8,300.9 469.2,301.3 469.6,301.6 470.0,301.6 470.4,301.6 470.8,301.9 471.2,301.9 471.6,301.1 472.0,301.5 472.4,301.5 472.8,302.1 473.2,301.5 473.6,302.1 474.0,301.8 474.4,302.6 474.8,301.7 475.2,301.7 475.6,301.7 476.0,301.8 476.4,302.6 476.8,301.5 477.2,301.4 477.6,301.6 478.0,301.9 478.4,301.3 478.8,302.0 479.2,302.0 479.6,301.7 480.0,301.6 480.4,301.3 480.8,301.5 481.2,301.4 481.6,302.2 482.0,302.4 482.4,301.7 482.8,301.8 483.2,301.1 483.6,301.7 484.0,301.9 484.4,301.9 484.8,301.8 485.2,302.0 485.6,301.7 486.0,301.6 486.4,302.3 486.8,301.0 487.2,301.2 487.6,301.3 488.0,301.3 488.4,301.2 488.8,301.4 489.2,301.1 489.6,301.2 490.0,301.4 490.4,301.0 490.8,301.0 491.2,300.5 491.6,300.2 492.0,300.3 492.4,300.4 492.8,299.9 493.2,299.7 493.6,299.2 494.0,298.7 494.4,297.5 494.8,297.6 495.2,296.8 495.6,296.8 496.0,295.9 496.4,295.6 496.8,295.4 497.2,295.7 497.6,295.3 498.0,296.2 498.4,296.8 498.8,297.7 499.2,297.6 499.6,298.3 500.0,299.3 500.4,298.8 500.8,299.5 501.2,299.1 501.6,299.3 502.0,299.5 502.4,299.6 502.8,299.0 503.2,298.6 503.6,299.5 504.0,298.8 504.4,299.0 504.8,299.1 505.2,299.0 505.6,298.7 506.0,298.9 506.4,298.6 506.8,299.5 507.2,299.5 507.6,299.9 508.0,300.9 508.4,300.7 508.8,300.6 509.2,300.3 509.6,301.1 510.0,301.6 510.4,300.8 510.8,301.3 511.2,301.0 511.6,301.3 512.0,301.3 512.4,300.9 512.8,301.4 513.2,301.0 513.6,302.3 514.0,302.2 514.4,301.8 514.8,301.9 515.2,301.8 515.6,301.9 516.0,302.0 516.4,301.8 516.8,301.9 517.2,301.6 517.6,301.8 518.0,301.9 518.4,302.3 518.8,302.1 519.2,303.0 519.6,302.2 520.0,302.2 520.4,302.4 520.8,302.7 521.2,303.0 521.6,302.7 522.0,302.1 522.4,302.3 522.8,302.8 523.2,302.5 523.6,302.7 524.0,302.4 524.4,303.1 524.8,303.0 525.2,302.9 525.6,302.5 526.0,301.8 526.4,301.9 526.8,302.5 527.2,302.6 527.6,301.3 528.0,302.2 528.4,302.8 528.8,302.8 529.2,302.3 529.6,302.7 530.0,302.5 530.4,302.4 530.8,302.9 531.2,302.8 531.6,302.2 532.0,302.0 532.4,301.9 532.8,301.9 533.2,302.9 533.6,303.1 534.0,302.5 534.4,302.8 534.8,302.1 535.2,302.3 535.6,302.6 536.0,302.4"/>
<polyline fill="none" stroke="#0000ff" stroke-width="4.2" stroke-linejoin="round" stroke-linecap="butt" points="47.2,228.1 47.6,226.4 48.0,227.5 48.4,227.2 48.8,227.2 49.2,227.3 49.6,226.6 50.0,227.2 50.4,227.0 50.8,228.6 51.2,227.4 51.6,227.2 52.0,227.2 52.4,227.1 52.8,226.9 53.2,227.1 53.6,227.4 54.0,227.2 54.4,227.6 54.8,227.1 55.2,227.2 55.6,227.8 56.0,227.4 56.4,227.0 56.8,227.1 57.2,227.4 57.6,227.9 58.0,227.1 58.4,227.1 58.8,227.6 59.2,226.9 59.6,227.1 60.0,227.6 60.4,227.4 60.8,227.3 61.2,227.4 61.6,226.1 62.0,227.6 62.4,226.8 62.8,226.5 63.2,227.2 63.6,227.4 64.0,226.9 64.4,226.7 64.8,227.1 65.2,227.1 65.6,227.6 66.0,227.3 66.4,227.0 66.8,227.3 67.2,226.6 67.6,226.1 68.0,226.3 68.4,225.8 68.8,224.9 69.2,224.0 69.6,223.6 70.0,221.9 70.4,222.8 70.8,222.7 71.2,222.2 71.6,223.4 72.0,223.7 72.4,225.0 72.8,224.5 73.2,225.4 73.6,226.3 74.0,226.7 74.4,225.5 74.8,226.2 75.2,226.5 75.6,226.1 76.0,226.9 76.4,225.8 76.8,226.2 77.2,225.5 77.6,226.2 78.0,225.4 78.4,224.8 78.8,223.8 79.2,224.4 79.6,223.3 80.0,222.5 80.4,221.7 80.8,220.4 81.2,218.9 81.6,217.7 82.0,216.7 82.4,216.6 82.8,214.8 83.2,214.6 83.6,214.5 84.0,214.6 84.4,215.0 84.8,214.5 85.2,214.5 85.6,215.3 86.0,215.5 86.4,214.6 86.8,213.0 87.2,210.3 87.6,206.1 88.0,198.7 88.4,187.7 88.8,170.4 89.2,148.2 89.6,120.6 90.0,90.9 90.4,64.6 90.8,51.5 91.2,56.0 91.6,77.2 92.0,105.1 92.4,135.1 92.8,160.4 93.2,180.6 93.6,193.7 94.0,204.6 94.4,210.7 94.8,213.7 95.2,216.4 95.6,218.2 96.0,219.8 96.4,221.1 96.8,222.4 97.2,222.1 97.6,223.0 98.0,223.2 98.4,224.1 98.8,223.9 99.2,224.2 99.6,223.0 100.0,222.9 100.4,222.0 100.8,222.2 101.2,221.3 101.6,220.6 102.0,220.6 102.4,221.6 102.8,222.2 103.2,223.1 103.6,224.5 104.0,226.0 104.4,225.5 104.8,225.7 105.2,225.7 105.6,225.8 106.0,226.6 106.4,226.7 106.8,226.5 107.2,226.7 107.6,226.6 108.0,226.7 108.4,226.1 108.8,226.5 109.2,226.7 109.6,226.4 110.0,226.5 110.4,226.4 110.8,226.7 111.2,227.2 111.6,226.7 112.0,226.8 112.4,227.2 112.8,227.2 113.2,227.7 113.6,226.3 114.0,227.4 114.4,226.9 114.8,227.2 115.2,227.5 115.6,227.6 116.0,227.5 116.4,227.2 116.8,227.8 117.2,227.1 117.6,227.2 118.0,227.5 118.4,227.0 118.8,228.1 119.2,227.7 119.6,228.1 120.0,227.3 120.4,227.2 120.8,227.5 121.2,227.7 121.6,227.1 122.0,227.5 122.4,227.3 122.8,227.9 123.2,227.0 123.6,227.7 124.0,227.0 124.4,226.9 124.8,227.0 125.2,226.8 125.6,227.3 126.0,227.6 126.4,227.3 126.8,227.5 127.2,227.9 127.6,227.3 128.0,227.3 128.4,227.1 128.8,226.6 129.2,227.6 129.6,226.6 130.0,227.5 130.4,227.3 130.8,227.7 131.2,227.3 131.6,227.0 132.0,227.5 132.4,227.1 132.8,227.3 133.2,227.4 133.6,227.4 134.0,227.4 134.4,227.1 134.8,227.4 135.2,226.6 135.6,227.3 136.0,226.9 136.4,227.8 136.8,227.8 137.2,226.6 137.6,227.4 138.0,227.2 138.4,226.9 138.8,227.5 139.2,227.1 139.6,226.6 140.0,227.2 140.4,227.3 140.8,227.5 141.2,226.9 141.6,227.6 142.0,227.7 142.4,227.0 142.8,227.2 143.2,227.4 143.6,227.3 144.0,228.1 144.4,227.5 144.8,227.0 145.2,227.1 145.6,227.5 146.0,228.4 146.4,227.4 146.8,227.6 147.2,227.8 147.6,227.6 148.0,228.5 148.4,227.5 148.8,227.9 149.2,227.6 149.6,227.8 150.0,227.1 150.4,228.2 150.8,227.5 151.2,227.6 151.6,227.2 152.0,227.3 152.4,227.8 152.8,228.0 153.2,227.9 153.6,228.1 154.0,227.9 154.4,227.7 154.8,227.9 155.2,227.8 155.6,227.6 156.0,228.0 156.4,228.2 156.8,227.8 157.2,227.6 157.6,228.0 158.0,228.4 158.4,227.6 158.8,227.7 159.2,227.7 159.6,228.3 160.0,227.1 160.4,228.0 160.8,228.4 161.2,227.5 161.6,228.4 162.0,228.1 162.4,227.7 162.8,227.9 163.2,227.3 163.6,227.6 164.0,228.5 164.4,227.4 164.8,228.4 165.2,227.7 165.6,228.1 166.0,227.7 166.4,226.9 166.8,227.6 167.2,227.8 167.6,227.3 168.0,227.2 168.4,227.8 168.8,227.5 169.2,227.1 169.6,227.4 170.0,228.0 170.4,227.5 170.8,228.0 171.2,228.2 171.6,227.7 172.0,227.2 172.4,227.1 172.8,227.6 173.2,228.0 173.6,227.8 174.0,227.9 174.4,227.5 174.8,227.8 175.2,227.5 175.6,227.5 176.0,227.1 176.4,226.9 176.8,227.3 177.2,227.0 177.6,227.0 178.0,227.6 178.4,227.2 178.8,228.3 179.2,227.4 179.6,226.6 180.0,227.0 180.4,226.6 180.8,226.0 181.2,226.4 181.6,225.3 182.0,224.0 182.4,225.0 182.8,223.9 183.2,224.1 183.6,222.6 184.0,221.8 184.4,222.2 184.8,220.6 185.2,220.6 185.6,220.7 186.0,219.9 186.4,219.7 186.8,219.8 187.2,220.2 187.6,219.8 188.0,220.3 188.4,220.2 188.8,220.5 189.2,218.9 189.6,217.8 190.0,217.2 190.4,215.2 190.8,213.5 191.2,211.4 191.6,209.6 192.0,206.9 192.4,205.6 192.8,203.7 193.2,204.2 193.6,206.0 194.0,206.6 194.4,208.5 194.8,210.3 195.2,212.9 195.6,214.4 196.0,215.3 196.4,217.1 196.8,217.7 197.2,218.3 197.6,218.0 198.0,219.0 198.4,218.4 198.8,218.2 199.2,218.2 199.6,218.6 200.0,219.5 200.4,219.6 200.8,220.8 201.2,221.3 201.6,222.4 202.0,222.9 202.4,223.3 202.8,223.2 203.2,224.6 203.6,225.3 204.0,225.6 204.4,226.1 204.8,226.0 205.2,226.3 205.6,226.3 206.0,227.3 206.4,227.0 206.8,226.9 207.2,226.7 207.6,227.2 208.0,227.9 208.4,227.6 208.8,227.1 209.2,227.9 209.6,227.9 210.0,227.8 210.4,227.8 210.8,227.9 211.2,227.7 211.6,227.8 212.0,227.3 212.4,228.2 212.8,227.8 213.2,228.5 213.6,227.0 214.0,228.1 214.4,228.3 214.8,227.8 215.2,228.1 215.6,228.3 216.0,228.2 216.4,227.7 216.8,227.9 217.2,228.4 217.6,228.5 218.0,228.1 218.4,228.1 218.8,228.1 219.2,228.5 219.6,227.6 220.0,227.5 220.4,227.9 220.8,227.5 221.2,227.7 221.6,228.0 222.0,228.1 222.4,227.5 222.8,228.1 223.2,227.2 223.6,228.0 224.0,227.2 224.4,227.4 224.8,228.1 225.2,227.7 225.6,227.6 226.0,227.7 226.4,228.1 226.8,227.9 227.2,227.9 227.6,228.4 228.0,227.7 228.4,227.8 228.8,227.8 229.2,228.4 229.6,228.3 230.0,228.5 230.4,227.9 230.8,227.9 231.2,228.2 231.6,227.7 232.0,228.1 232.4,228.1 232.8,227.6 233.2,227.8 233.6,227.8 234.0,228.5 234.4,228.8 234.8,227.8 235.2,227.8 235.6,226.9 236.0,227.8 236.4,227.7 236.8,227.3 237.2,228.0 237.6,227.1 238.0,227.5 238.4,227.7 238.8,227.2 239.2,228.0 239.6,228.0 240.0,227.2 240.4,227.2 240.8,227.9 241.2,227.7 241.6,227.3 242.0,227.6 242.4,227.7 242.8,227.7 243.2,228.1 243.6,227.9 244.0,228.4 244.4,228.3 244.8,228.0 245.2,228.2 245.6,228.2 246.0,228.0 246.4,227.3 246.8,228.1 247.2,227.7 247.6,228.3 248.0,227.6 248.4,227.8 248.8,227.7 249.2,228.2 249.6,227.5 250.0,227.3 250.4,227.5 250.8,227.2 251.2,227.5 251.6,227.4 252.0,227.5 252.4,228.2 252.8,227.2 253.2,227.4 253.6,227.3 254.0,227.7 254.4,227.0 254.8,227.2 255.2,227.5 255.6,227.7 256.0,227.5 256.4,227.3 256.8,227.1 257.2,227.7 257.6,228.1 258.0,227.6 258.4,227.6 258.8,227.7 259.2,227.1 259.6,227.4 260.0,227.4 260.4,227.6 260.8,227.4 261.2,227.0 261.6,227.9 262.0,228.1 262.4,227.3 262.8,227.5 263.2,227.4 263.6,227.6 264.0,226.7 264.4,227.8 264.8,227.0 265.2,227.6 265.6,227.1 266.0,226.9 266.4,226.8 266.8,227.2 267.2,226.4 267.6,226.5 268.0,226.4 268.4,225.9 268.8,226.9 269.2,226.5 269.6,226.1 270.0,226.3 270.4,225.2 270.8,225.3 271.2,225.6 271.6,224.8 272.0,222.8 272.4,221.4 272.8,220.7 273.2,219.4 273.6,216.0 274.0,212.3 274.4,208.0 274.8,202.2 275.2,197.2 275.6,192.4 276.0,189.0 276.4,188.2 276.8,189.9 277.2,194.6 277.6,199.6 278.0,205.6 278.4,211.1 278.8,214.1 279.2,216.9 279.6,220.0 280.0,222.2 280.4,223.7 280.8,224.6 281.2,224.5 281.6,224.9 282.0,226.1 282.4,225.4 282.8,226.4 283.2,226.2 283.6,226.8 284.0,226.9 284.4,227.0 284.8,227.1 285.2,226.5 285.6,227.0 286.0,226.9 286.4,227.1 286.8,227.5 287.2,226.9 287.6,226.8 288.0,226.9 288.4,227.1 288.8,227.6 289.2,227.0 289.6,227.7 290.0,227.4 290.4,227.3 290.8,226.9 291.2,227.5 291.6,227.7 292.0,226.7 292.4,227.9 292.8,228.2 293.2,227.7 293.6,227.8 294.0,228.5 294.4,228.1 294.8,227.3 295.2,227.6 295.6,227.6 296.0,227.6 296.4,226.8 296.8,228.0 297.2,227.4 297.6,227.7 298.0,227.5 298.4,227.9 298.8,227.4 299.2,227.1 299.6,227.6 300.0,228.0 300.4,227.3 300.8,228.1 301.2,227.6 301.6,227.2 302.0,228.1 302.4,227.2 302.8,227.9 303.2,227.3 303.6,227.7 304.0,227.1 304.4,227.3 304.8,228.0 305.2,227.7 305.6,227.5 306.0,227.3 306.4,227.7 306.8,227.0 307.2,227.0 307.6,227.3 308.0,227.1 308.4,227.1 308.8,227.4 309.2,227.4 309.6,227.4 310.0,228.1 310.4,227.8 310.8,228.0 311.2,227.5 311.6,227.2 312.0,226.8 312.4,227.2 312.8,226.5 313.2,227.0 313.6,227.5 314.0,227.8 314.4,227.5 314.8,226.8 315.2,227.3 315.6,226.7 316.0,227.3 316.4,226.9 316.8,227.2 317.2,227.7 317.6,227.0 318.0,227.3 318.4,226.3 318.8,225.9 319.2,226.2 319.6,225.9 320.0,224.4 320.4,223.9 320.8,222.5 321.2,221.9 321.6,221.0 322.0,219.2 322.4,217.5 322.8,215.6 323.2,214.7 323.6,213.4 324.0,212.1 324.4,211.2 324.8,210.2 325.2,211.6 325.6,211.7 326.0,212.8 326.4,214.4 326.8,214.8 327.2,217.0 327.6,218.3 328.0,219.5 328.4,220.7 328.8,220.8 329.2,220.1 329.6,220.5 330.0,220.2 330.4,219.2 330.8,217.5 331.2,215.9 331.6,215.2 332.0,213.4 332.4,211.6 332.8,209.6 333.2,209.9 333.6,207.5 334.0,208.6 334.4,210.1 334.8,210.4 335.2,212.1 335.6,213.3 336.0,216.2 336.4,217.0 336.8,219.3 337.2,220.8 337.6,221.7 338.0,223.6 338.4,223.6 338.8,224.6 339.2,225.4 339.6,225.7 340.0,226.4 340.4,226.8 340.8,226.6 341.2,226.6 341.6,226.7 342.0,226.9 342.4,227.5 342.8,227.2 343.2,227.5 343.6,227.3 344.0,227.1 344.4,227.8 344.8,227.1 345.2,227.6 345.6,228.2 346.0,227.2 346.4,227.6 346.8,227.1 347.2,227.5 347.6,227.2 348.0,227.6 348.4,227.5 348.8,227.8 349.2,228.3 349.6,227.9 350.0,228.0 350.4,227.8 350.8,227.7 351.2,227.5 351.6,227.1 352.0,227.8 352.4,228.4 352.8,228.0 353.2,227.6 353.6,228.4 354.0,227.6 354.4,227.6 354.8,227.3 355.2,227.4 355.6,227.7 356.0,228.6 356.4,227.8 356.8,227.4 357.2,227.5 357.6,227.7 358.0,227.1 358.4,227.9 358.8,228.1 359.2,227.9 359.6,228.0 360.0,227.3 360.4,227.2 360.8,228.3 361.2,228.3 361.6,227.3 362.0,228.1 362.4,228.0 362.8,228.2 363.2,228.2 363.6,227.9 364.0,228.2 364.4,228.1 364.8,228.1 365.2,227.4 365.6,227.0 366.0,227.9 366.4,227.5 366.8,228.3 367.2,228.4 367.6,228.3 368.0,228.1 368.4,228.2 368.8,228.6 369.2,228.0 369.6,228.6 370.0,228.5 370.4,228.4 370.8,228.8 371.2,228.0 371.6,228.6 372.0,227.9 372.4,228.0 372.8,227.8 373.2,228.4 373.6,227.9 374.0,228.3 374.4,227.8 374.8,228.6 375.2,228.8 375.6,228.3 376.0,228.8 376.4,228.4 376.8,229.0 377.2,228.2 377.6,227.6 378.0,228.7 378.4,228.2 378.8,227.8 379.2,227.8 379.6,227.4 380.0,227.9 380.4,227.6 380.8,228.5 381.2,228.2 381.6,227.3 382.0,227.3 382.4,227.7 382.8,227.2 383.2,227.9 383.6,227.9 384.0,227.6 384.4,227.7 384.8,228.0 385.2,228.2 385.6,228.2 386.0,227.4 386.4,227.7 386.8,226.9 387.2,227.2 387.6,226.5 388.0,226.9 388.4,226.0 388.8,225.7 389.2,225.8 389.6,225.7 390.0,224.6 390.4,224.6 390.8,224.4 391.2,223.9 391.6,222.9 392.0,222.6 392.4,221.7 392.8,221.5 393.2,220.1 393.6,218.4 394.0,217.0 394.4,216.9 394.8,216.6 395.2,215.7 395.6,215.9 396.0,215.7 396.4,216.1 396.8,218.0 397.2,218.9 397.6,220.2 398.0,220.7 398.4,222.3 398.8,223.0 399.2,224.4 399.6,224.6 400.0,225.1 400.4,225.6 400.8,226.7 401.2,226.5 401.6,226.5 402.0,226.6 402.4,226.7 402.8,227.8 403.2,226.8 403.6,227.2 404.0,227.9 404.4,228.2 404.8,227.7 405.2,228.1 405.6,228.2 406.0,228.3 406.4,227.9 406.8,228.5 407.2,227.9 407.6,228.4 408.0,227.4 408.4,228.3 408.8,227.5 409.2,227.5 409.6,228.2 410.0,227.8 410.4,228.4 410.8,227.8 411.2,228.8 411.6,228.2 412.0,227.9 412.4,228.4 412.8,228.7 413.2,228.1 413.6,228.5 414.0,229.2 414.4,228.7 414.8,228.4 415.2,228.2 415.6,228.7 416.0,227.9 416.4,227.3 416.8,228.2 417.2,228.1 417.6,229.2 418.0,228.5 418.4,228.1 418.8,228.0 419.2,228.6 419.6,228.1 420.0,228.1 420.4,228.3 420.8,228.3 421.2,228.3 421.6,228.3 422.0,228.7 422.4,228.9 422.8,227.6 423.2,229.2 423.6,228.3 424.0,228.8 424.4,228.0 424.8,228.4 425.2,228.4 425.6,228.3 426.0,228.6 426.4,228.5 426.8,227.9 427.2,228.2 427.6,228.5 428.0,228.5 428.4,228.1 428.8,228.1 429.2,228.1 429.6,227.7 430.0,227.7 430.4,228.8 430.8,228.1 431.2,228.3 431.6,227.9 432.0,228.6 432.4,228.7 432.8,227.9 433.2,228.2 433.6,227.7 434.0,228.6 434.4,228.3 434.8,227.7 435.2,228.4 435.6,228.1 436.0,228.1 436.4,228.0 436.8,227.6 437.2,227.7 437.6,228.1 438.0,227.8 438.4,227.4 438.8,228.5 439.2,227.6 439.6,227.3 440.0,227.1 440.4,227.4 440.8,227.3 441.2,226.8 441.6,226.8 442.0,225.7 442.4,225.9 442.8,225.6 443.2,225.5 443.6,225.5 444.0,224.3 444.4,226.2 444.8,224.6 445.2,225.1 445.6,225.5 446.0,225.7 446.4,225.7 446.8,224.8 447.2,225.7 447.6,226.7 448.0,226.3 448.4,226.5 448.8,226.2 449.2,227.8 449.6,227.6 450.0,227.1 450.4,227.4 450.8,227.4 451.2,226.9 451.6,227.1 452.0,227.1 452.4,227.0 452.8,227.0 453.2,226.2 453.6,225.6 454.0,225.4 454.4,224.4 454.8,223.7 455.2,224.0 455.6,223.0 456.0,222.8 456.4,222.8 456.8,222.0 457.2,222.8 457.6,223.1 458.0,223.2 458.4,224.0 458.8,224.0 459.2,224.0 459.6,225.3 460.0,225.5 460.4,226.6 460.8,226.7 461.2,226.7 461.6,227.1 462.0,227.9 462.4,228.0 462.8,227.7 463.2,227.9 463.6,227.7 464.0,227.8 464.4,228.1 464.8,227.8 465.2,228.0 465.6,227.5 466.0,227.3 466.4,227.2 466.8,227.7 467.2,228.3 467.6,228.3 468.0,227.4 468.4,227.2 468.8,228.1 469.2,227.9 469.6,227.2 470.0,228.1 470.4,227.7 470.8,228.2 471.2,227.9 471.6,228.0 472.0,227.8 472.4,227.3 472.8,227.6 473.2,227.5 473.6,228.1 474.0,227.3 474.4,227.1 474.8,228.0 475.2,228.2 475.6,228.4 476.0,228.3 476.4,227.3 476.8,227.6 477.2,227.6 477.6,227.8 478.0,227.0 478.4,227.9 478.8,228.0 479.2,227.5 479.6,227.8 480.0,228.3 480.4,227.8 480.8,228.1 481.2,228.1 481.6,227.8 482.0,227.8 482.4,227.4 482.8,228.1 483.2,227.5 483.6,227.3 484.0,227.9 484.4,227.3 484.8,227.8 485.2,228.0 485.6,227.7 486.0,227.7 486.4,228.0 486.8,227.8 487.2,226.9 487.6,226.9 488.0,228.0 488.4,227.5 488.8,226.6 489.2,226.8 489.6,227.3 490.0,226.8 490.4,227.2 490.8,226.9 491.2,226.9 491.6,226.0 492.0,226.4 492.4,226.5 492.8,224.9 493.2,225.2 493.6,224.4 494.0,223.5 494.4,222.4 494.8,221.1 495.2,220.3 495.6,220.3 496.0,219.8 496.4,219.7 496.8,219.7 497.2,220.0 497.6,220.1 498.0,220.5 498.4,221.8 498.8,222.7 499.2,223.3 499.6,223.3 500.0,224.3 500.4,224.4 500.8,225.4 501.2,225.2 501.6,225.6 502.0,225.8 502.4,225.7 502.8,226.1 503.2,225.1 503.6,224.6 504.0,225.7 504.4,225.9 504.8,225.9 505.2,225.6 505.6,225.8 506.0,225.9 506.4,225.6 506.8,226.1 507.2,226.7 507.6,226.5 508.0,227.7 508.4,226.6 508.8,227.2 509.2,227.9 509.6,227.3 510.0,227.2 510.4,227.2 510.8,227.5 511.2,228.4 511.6,228.1 512.0,228.2 512.4,227.8 512.8,228.4 513.2,228.1 513.6,227.6 514.0,227.9 514.4,228.1 514.8,228.5 515.2,228.0 515.6,228.2 516.0,228.8 516.4,227.7 516.8,227.5 517.2,228.4 517.6,228.1 518.0,228.0 518.4,228.1 518.8,227.8 519.2,228.2 519.6,227.9 520.0,228.3 520.4,227.5 520.8,227.6 521.2,227.9 521.6,227.7 522.0,228.1 522.4,227.9 522.8,227.8 523.2,228.1 523.6,227.8 524.0,227.4 524.4,227.5 524.8,227.6 525.2,227.8 525.6,228.0 526.0,228.3 526.4,228.2 526.8,228.7 527.2,228.5 527.6,227.9 528.0,228.6 528.4,228.4 528.8,227.9 529.2,228.1 529.6,228.4 530.0,228.1 530.4,228.4 530.8,228.1 531.2,228.2 531.6,227.9 532.0,228.1 532.4,227.9 532.8,228.3 533.2,227.4 533.6,228.2 534.0,228.5 534.4,228.3 534.8,228.1 535.2,228.3 535.6,227.7 536.0,227.7"/>
</g>
<polygon fill="#000" points="91.0,26.2 98.9,34.1 91.0,42.0 83.1,34.1"/>
<polygon fill="#000" points="192.2,178.3 200.1,186.2 192.2,194.1 184.3,186.2"/>
<polygon fill="#000" points="276.0,163.3 283.9,171.2 276.0,179.1 268.1,171.2"/>
<polygon fill="#000" points="321.4,185.0 329.3,192.9 321.4,200.8 313.5,192.9"/>
<polygon fill="#000" points="340.2,183.9 348.1,191.8 340.2,199.7 332.3,191.8"/>
<polygon fill="#000" points="395.2,193.9 403.1,201.8 395.2,209.7 387.3,201.8"/>
<polygon fill="#000" points="438.4,199.3 446.3,207.2 438.4,215.1 430.5,207.2"/>
<polygon fill="#000" points="457.3,199.3 465.2,207.2 457.3,215.1 449.4,207.2"/>
<polygon fill="#000" points="496.6,200.9 504.5,208.8 496.6,216.7 488.7,208.8"/>
<rect x="47.2" y="9.5" width="488.95" height="395.6" fill="none" stroke="#000" stroke-width="1.8"/>
<path d="M87.95,405.1 v-4.3 M128.69,405.1 v-8 M169.44,405.1 v-4.3 M210.18,405.1 v-8 M250.93,405.1 v-4.3 M291.67,405.1 v-8 M332.42,405.1 v-4.3 M373.17,405.1 v-8 M413.91,405.1 v-4.3 M454.66,405.1 v-8 M495.40,405.1 v-4.3" stroke="#000" stroke-width="1.8" fill="none"/>
<g font-family="'Liberation Serif', 'Times New Roman', serif" fill="#000" text-rendering="geometricPrecision">
<text x="47.45" y="426.3" font-size="17.5" font-weight="bold" text-anchor="middle">20</text>
<text x="128.94" y="426.3" font-size="17.5" font-weight="bold" text-anchor="middle">30</text>
<text x="210.43" y="426.3" font-size="17.5" font-weight="bold" text-anchor="middle">40</text>
<text x="291.92" y="426.3" font-size="17.5" font-weight="bold" text-anchor="middle">50</text>
<text x="373.42" y="426.3" font-size="17.5" font-weight="bold" text-anchor="middle">60</text>
<text x="454.91" y="426.3" font-size="17.5" font-weight="bold" text-anchor="middle">70</text>
<text x="536.40" y="426.3" font-size="17.5" font-weight="bold" text-anchor="middle">80</text>
<text x="291.3" y="459.4" font-size="20.3" font-weight="bold" text-anchor="middle">2θ (degree)</text>
<text transform="translate(24.9,207) rotate(-90)" font-size="20.3" letter-spacing="0.17" font-weight="bold" text-anchor="middle">Intensity (a.u.)</text>
<text x="419.6" y="177.6" font-size="20" letter-spacing="0.2">Pt/TiO<tspan font-size="15" dx="0.6" dy="5.1">2</tspan><tspan dy="-5.1" letter-spacing="0.3">(WB)</tspan></text>
<text x="417.8" y="287.0" font-size="20" letter-spacing="0.2">Pt/TiO<tspan font-size="15" dx="0.6" dy="5.1">2</tspan><tspan dy="-5.1" letter-spacing="0.1">(DB)</tspan></text>
<text x="422.0" y="356.7" font-size="20" letter-spacing="0.2">Pt/TiO<tspan font-size="15" dx="0.1" dy="5.1">2</tspan><tspan dy="-5.1" letter-spacing="0">(IM)</tspan></text>
</g>
</svg>
</body></html>
